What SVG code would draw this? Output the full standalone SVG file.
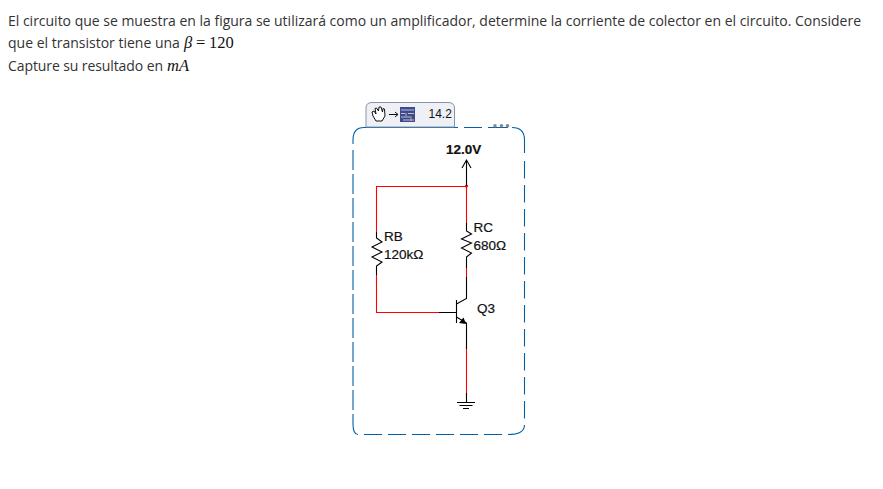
<svg xmlns="http://www.w3.org/2000/svg" width="883" height="489" viewBox="0 0 883 489">
<style>
.t{font-family:"Open Sans",sans-serif;font-size:14px;fill:#333}
.m{font-family:"Liberation Serif",serif;font-size:16.500px;fill:#111}
.l{font-family:"Liberation Sans",Arial,sans-serif;font-size:13.500px;fill:#111;stroke:#111;stroke-width:.2}
.k{fill:none;stroke:#000;stroke-width:1.100}
.r{fill:none;stroke:#f00;stroke-width:1.100}
.f{fill:none;stroke:#0060a8;stroke-width:1.100}
</style>
<rect width="883" height="489" fill="#fff"/>
<g id="question">
<text class="t" x="8" y="26" textLength="853">El circuito que se muestra en la figura se utilizará como un amplificador, determine la corriente de colector en el circuito. Considere</text>
<text class="t" x="8" y="48">que el transistor tiene una</text>
<text class="m" x="184" y="48" font-style="italic">β</text><text class="m" x="196" y="48" font-size="19">=</text><text class="m" x="209" y="48">120</text>
<text class="t" x="8" y="71" textLength="155">Capture su resultado en</text>
<text class="m" x="167" y="71" font-style="italic" font-size="17.500">mA</text>
</g>
<g id="frame">
<path class="f" stroke-dasharray="20 4" d="M353 150V410"/>
<path class="f" stroke-dasharray="17.500 6.500" d="M524.500 161V420"/>
<path class="f" stroke-dasharray="18 6" d="M364 434.500H503"/>
<path class="f" d="M353 144V140Q353 127.500 364 127.500H458M464 127.500H482M488 127.500H508M512 127.500Q524.500 127.500 524.500 140V153M524.500 425Q524.500 434.500 508 434.500M353 414V424Q353 434.500 358 434.500"/>
<circle cx="495" cy="125.800" r="1.800" fill="#888"/><circle cx="501.500" cy="125.800" r="1.800" fill="#888"/><circle cx="507.500" cy="125.800" r="1.800" fill="#888"/>
</g>
<g id="tab">
<path d="M366 127V108Q366 102.500 372 102.500H448Q454.500 102.500 454.500 108V127Z" fill="#eef0f5" stroke="#8a93a3"/>
<path d="M372 112L373 116L376 121L382 121L385 116L384.500 109L383 108.500L382.500 112L381 107L379 107L378.500 111L376.500 108L375 108.500L376 114L374 111Z" fill="#fff" stroke="#111"/>
<path d="M389 114.500H398M395 112l3 2.500-3 2.500" fill="none" stroke="#111"/>
<rect x="400" y="107" width="15" height="15" fill="#3f4a8c"/>
<path d="M401 110h13M401 113.500h4M408 113.500h6M401 117h9M403 120h11" stroke="#b9c0e6"/>
<path d="M406 113v3M411 116v5" stroke="#d8b060"/>
<text x="428.500" y="118" font-family="Liberation Sans,Arial,sans-serif" font-size="12" fill="#111">14.2</text>
</g>
<g id="connectors">
<path class="r" d="M376.500 232V186.500H466.500M466.500 186V223M376.500 275V312.500H439M466.500 268V277M466.500 349V393"/>
<circle cx="466.500" cy="186" r="1.500" fill="#f00"/>
</g>
<g id="vcc">
<path class="k" d="M466.500 186V160M462 168L466.500 160L471 168"/>
<text class="l" x="446" y="154" font-weight="bold" font-size="13">12.0V</text>
</g>
<g id="RB">
<path class="k" d="M376.500 232V238L382 242L372 247L382 252L372 257L382 262L376.500 266V275"/>
<text class="l" x="384" y="241">RB</text><text class="l" x="384" y="258.500">120kΩ</text>
</g>
<g id="RC">
<path class="k" d="M466.500 223V231L471.500 234L461.500 239L471.500 243L461.500 248L471.500 253L466.500 257V268"/>
<text class="l" x="473.500" y="232">RC</text><text class="l" x="473.500" y="250">680Ω</text>
</g>
<g id="Q3">
<path class="k" d="M439 312.500H456.500M456.500 300V323M466.500 277V298.500L456.500 304M456.500 317L466.500 323V349"/>
<path d="M466 324L459 323L463.500 317.500Z" fill="#000"/>
<text class="l" x="477" y="313">Q3</text>
</g>
<g id="ground">
<path class="k" d="M466.500 393V402.500M457 402.500H475M459.500 405.500H472.500M463 408.500H469"/>
</g>
</svg>
